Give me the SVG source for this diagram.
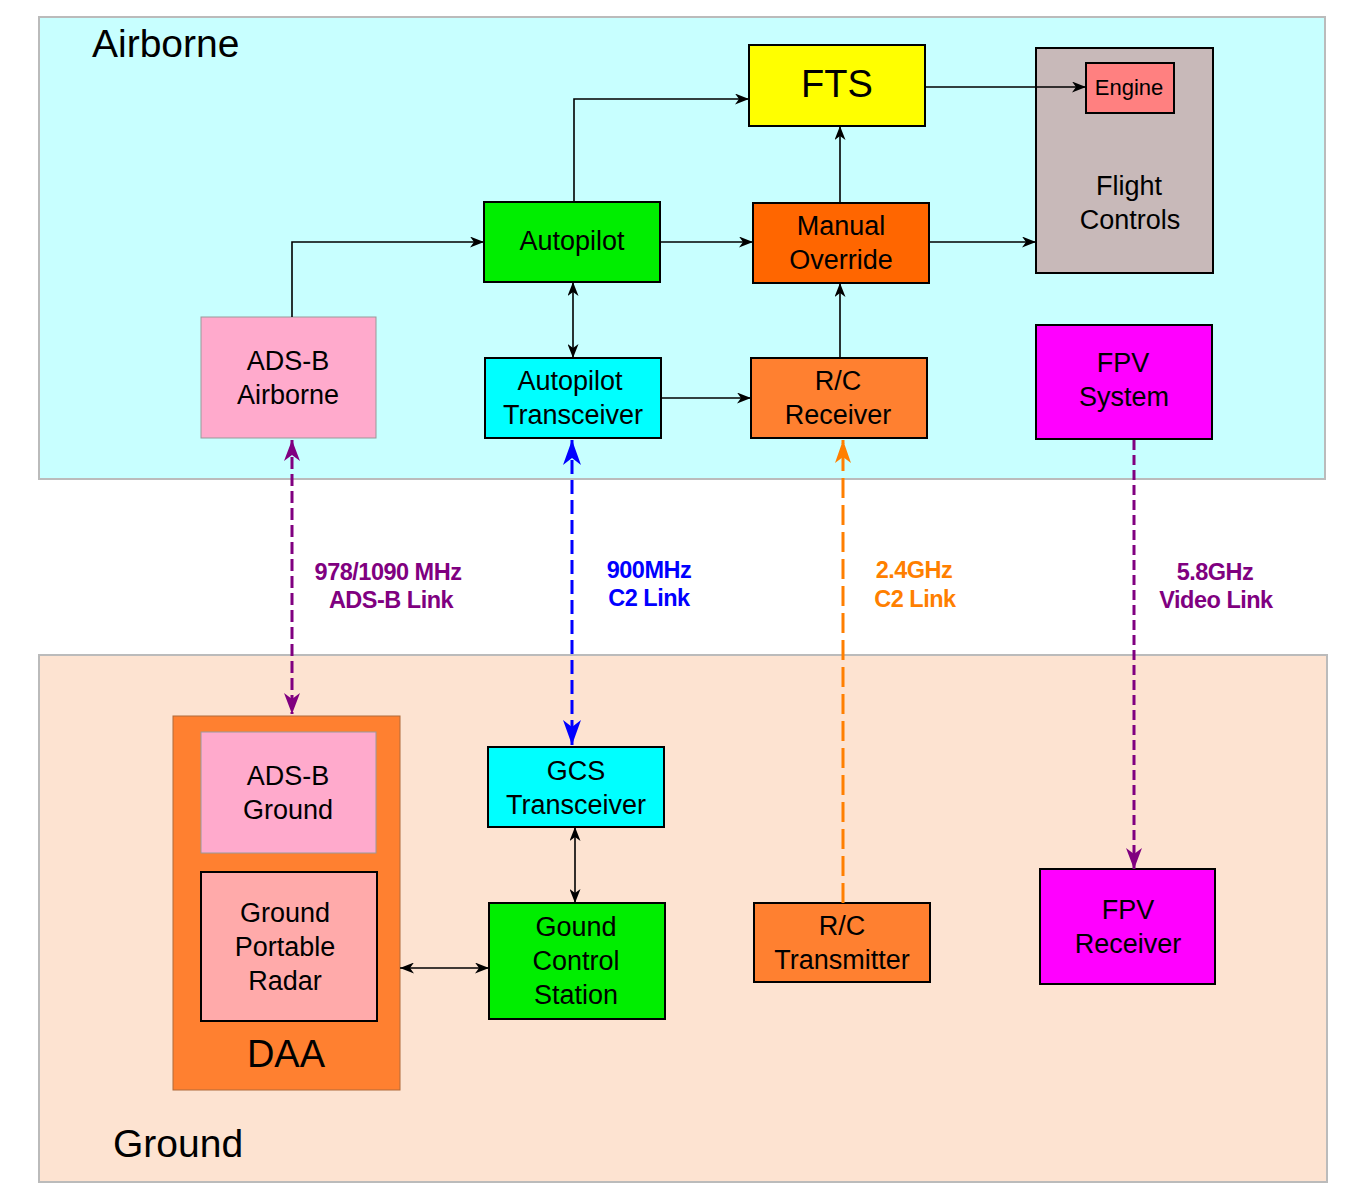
<svg xmlns="http://www.w3.org/2000/svg" width="1349" height="1203" viewBox="0 0 1349 1203">
<style>
  text { font-family: "Liberation Sans", Arial, sans-serif; fill: #000; text-anchor: middle; }
  .t { font-size: 27px; }
  .title { font-size: 39px; text-anchor: start; }
  .big { font-size: 38px; }
  .lbl { font-size: 23.5px; font-weight: bold; letter-spacing: -0.5px; }
  .box { stroke: #000; stroke-width: 2; }
  .thin { stroke: #999; stroke-width: 1; }
  .ln { fill: none; stroke: #000; stroke-width: 1.6; }
  .dash { fill: none; stroke-width: 3; }
</style>
<defs>
  <marker id="ab" markerUnits="userSpaceOnUse" markerWidth="15" markerHeight="11" refX="14" refY="5.5" orient="auto-start-reverse">
    <path d="M0,0 L14,5.5 L0,11 L4,5.5 z" fill="#000"/>
  </marker>
  <marker id="ap" markerUnits="userSpaceOnUse" markerWidth="22" markerHeight="16" refX="21" refY="8" orient="auto-start-reverse">
    <path d="M0,0 L21,8 L0,16 L6,8 z" fill="#800080"/>
  </marker>
  <marker id="abl" markerUnits="userSpaceOnUse" markerWidth="26" markerHeight="18" refX="25" refY="9" orient="auto-start-reverse">
    <path d="M0,0 L25,9 L0,18 L7,9 z" fill="#0000ff"/>
  </marker>
  <marker id="ao" markerUnits="userSpaceOnUse" markerWidth="24" markerHeight="16" refX="23" refY="8" orient="auto-start-reverse">
    <path d="M0,0 L23,8 L0,16 L6,8 z" fill="#ff7f00"/>
  </marker>
</defs>

<g id="frames">
  <rect id="airborne-area" x="39" y="17" width="1286" height="462" fill="#c8ffff" stroke="#bbbbbb" stroke-width="2"/>
  <text class="title" x="92" y="57">Airborne</text>
  <rect id="ground-area" x="39" y="655" width="1288" height="527" fill="#fde3d1" stroke="#bbbbbb" stroke-width="2"/>
  <text class="title" x="113" y="1157">Ground</text>
</g>

<g id="fts">
  <rect class="box" x="749" y="45" width="176" height="81" fill="#ffff00"/>
  <text class="big" x="837" y="97">FTS</text>
</g>
<g id="flight-controls">
  <rect class="box" x="1036" y="48" width="177" height="225" fill="#c8b9b9"/>
  <text class="t" x="1129" y="195">Flight</text>
  <text class="t" x="1130" y="229">Controls</text>
</g>
<g id="engine">
  <rect class="box" x="1086" y="63" width="88" height="50" fill="#ff8080"/>
  <text x="1129" y="95" style="font-size:22px">Engine</text>
</g>
<g id="autopilot">
  <rect class="box" x="484" y="202" width="176" height="80" fill="#00ee00"/>
  <text class="t" x="572" y="250">Autopilot</text>
</g>
<g id="manual-override">
  <rect class="box" x="753" y="203" width="176" height="80" fill="#ff6600"/>
  <text class="t" x="841" y="235">Manual</text>
  <text class="t" x="841" y="269">Override</text>
</g>
<g id="adsb-airborne">
  <rect class="thin" x="201" y="317" width="175" height="121" fill="#ffaacc"/>
  <text class="t" x="288" y="370">ADS-B</text>
  <text class="t" x="288" y="404">Airborne</text>
</g>
<g id="autopilot-transceiver">
  <rect class="box" x="485" y="358" width="176" height="80" fill="#00ffff"/>
  <text class="t" x="570" y="390">Autopilot</text>
  <text class="t" x="573" y="424">Transceiver</text>
</g>
<g id="rc-receiver">
  <rect class="box" x="751" y="358" width="176" height="80" fill="#ff8030"/>
  <text class="t" x="838" y="390">R/C</text>
  <text class="t" x="838" y="424">Receiver</text>
</g>
<g id="fpv-system">
  <rect class="box" x="1036" y="325" width="176" height="114" fill="#ff00ff"/>
  <text class="t" x="1123" y="372">FPV</text>
  <text class="t" x="1124" y="406">System</text>
</g>

<g id="daa">
  <rect x="173" y="716" width="227" height="374" fill="#ff8030" stroke="#b06a3a" stroke-width="1"/>
  <text class="big" x="286" y="1067">DAA</text>
</g>
<g id="adsb-ground">
  <rect class="thin" x="201" y="732" width="175" height="121" fill="#ffaacc"/>
  <text class="t" x="288" y="785">ADS-B</text>
  <text class="t" x="288" y="819">Ground</text>
</g>
<g id="ground-portable-radar">
  <rect class="box" x="201" y="872" width="176" height="149" fill="#ffaaaa"/>
  <text class="t" x="285" y="922">Ground</text>
  <text class="t" x="285" y="956">Portable</text>
  <text class="t" x="285" y="990">Radar</text>
</g>
<g id="gcs-transceiver">
  <rect class="box" x="488" y="747" width="176" height="80" fill="#00ffff"/>
  <text class="t" x="576" y="780">GCS</text>
  <text class="t" x="576" y="814">Transceiver</text>
</g>
<g id="ground-control-station">
  <rect class="box" x="489" y="903" width="176" height="116" fill="#00ee00"/>
  <text class="t" x="576" y="936">Gound</text>
  <text class="t" x="576" y="970">Control</text>
  <text class="t" x="576" y="1004">Station</text>
</g>
<g id="rc-transmitter">
  <rect class="box" x="754" y="903" width="176" height="79" fill="#ff8030"/>
  <text class="t" x="842" y="935">R/C</text>
  <text class="t" x="842" y="969">Transmitter</text>
</g>
<g id="fpv-receiver">
  <rect class="box" x="1040" y="869" width="175" height="115" fill="#ff00ff"/>
  <text class="t" x="1128" y="919">FPV</text>
  <text class="t" x="1128" y="953">Receiver</text>
</g>

<g id="connectors">
  <path class="ln" d="M292,317 V242 H484" marker-end="url(#ab)"/>
  <path class="ln" d="M574,202 V99 H749" marker-end="url(#ab)"/>
  <path class="ln" d="M660,242 H753" marker-end="url(#ab)"/>
  <path class="ln" d="M840,203 V126" marker-end="url(#ab)"/>
  <path class="ln" d="M925,87 H1086" marker-end="url(#ab)"/>
  <path class="ln" d="M929,242 H1036" marker-end="url(#ab)"/>
  <path class="ln" d="M573,282 V358" marker-start="url(#ab)" marker-end="url(#ab)"/>
  <path class="ln" d="M661,398 H751" marker-end="url(#ab)"/>
  <path class="ln" d="M840,358 V283" marker-end="url(#ab)"/>
  <path class="ln" d="M575,827 V903" marker-start="url(#ab)" marker-end="url(#ab)"/>
  <path class="ln" d="M400,968 H489" marker-start="url(#ab)" marker-end="url(#ab)"/>

  <path class="dash" d="M292,440 V714" stroke="#800080" stroke-dasharray="12,5" marker-start="url(#ap)" marker-end="url(#ap)"/>
  <path class="dash" d="M572,440 V745" stroke="#0000ff" stroke-dasharray="14,6" marker-start="url(#abl)" marker-end="url(#abl)"/>
  <path class="dash" d="M843,903 V440" stroke="#ff7f00" stroke-dasharray="20,7" marker-end="url(#ao)"/>
  <path class="dash" d="M1134,440 V869" stroke="#800080" stroke-dasharray="10,5" marker-end="url(#ap)"/>

  <text class="lbl" x="388" y="580" style="fill:#800080">978/1090 MHz</text>
  <text class="lbl" x="391" y="608" style="fill:#800080">ADS-B Link</text>
  <text class="lbl" x="649" y="578" style="fill:#0000ff">900MHz</text>
  <text class="lbl" x="649" y="606" style="fill:#0000ff">C2 Link</text>
  <text class="lbl" x="914" y="578" style="fill:#ff7f00">2.4GHz</text>
  <text class="lbl" x="915" y="607" style="fill:#ff7f00">C2 Link</text>
  <text class="lbl" x="1215" y="580" style="fill:#800080">5.8GHz</text>
  <text class="lbl" x="1216" y="608" style="fill:#800080">Video Link</text>
</g>
</svg>
